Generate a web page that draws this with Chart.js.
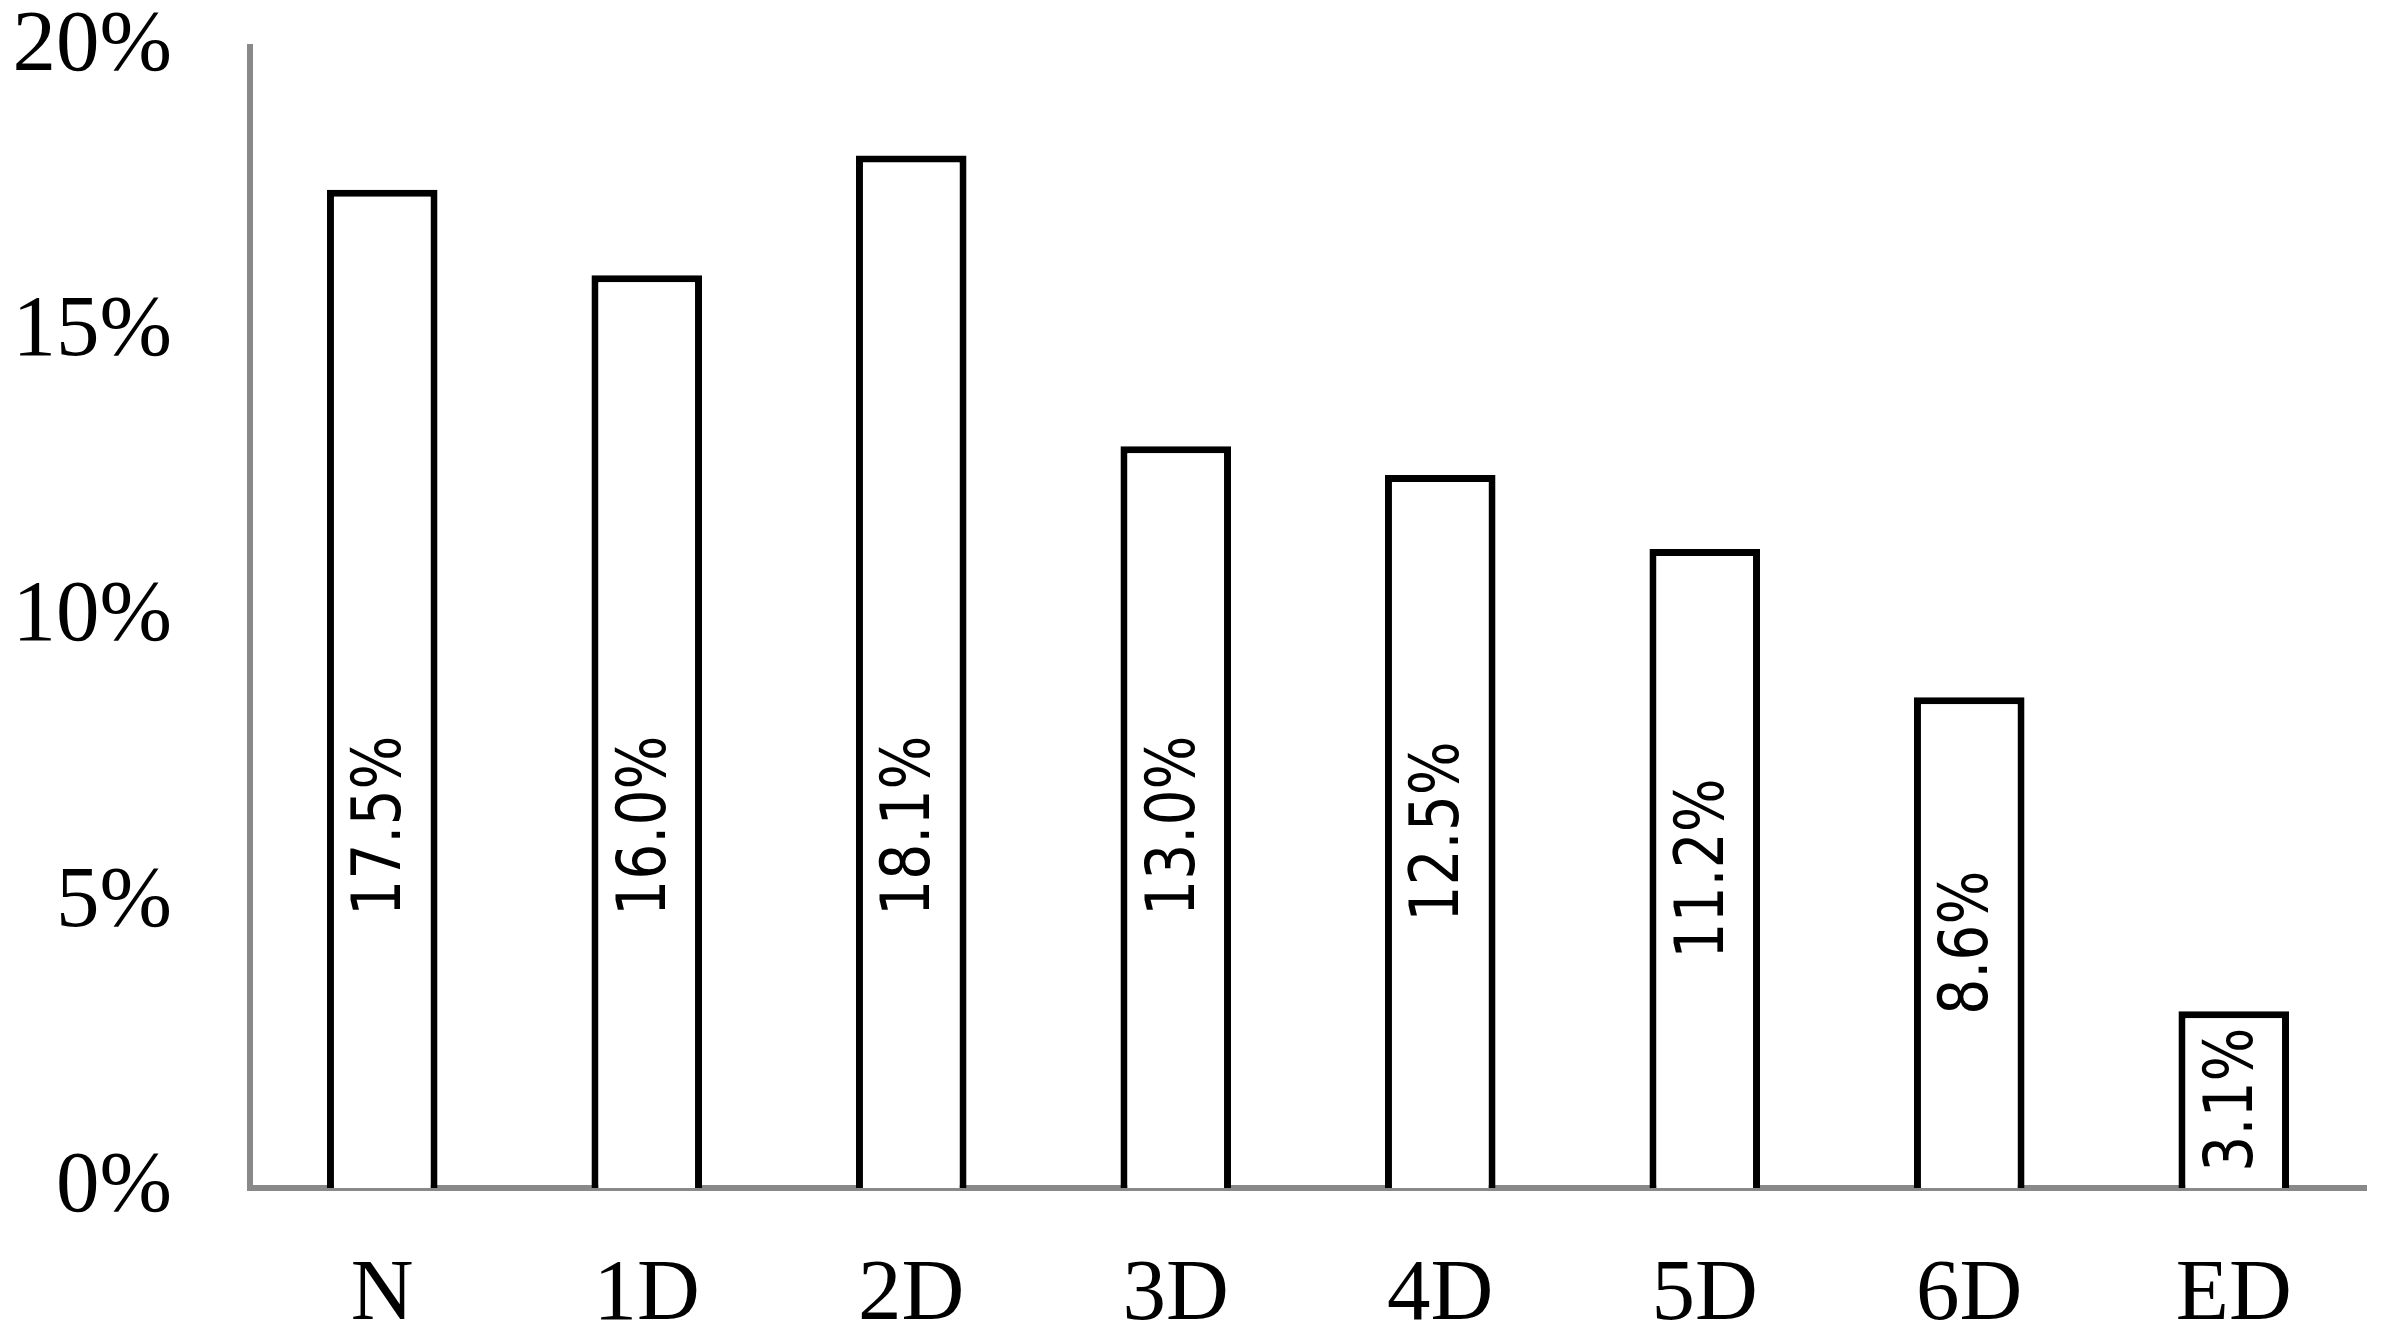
<!DOCTYPE html>
<html>
<head>
<meta charset="utf-8">
<script src="https://cdn.jsdelivr.net/npm/chart.js@4/dist/chart.umd.min.js"></script>
<style>
  html, body { margin: 0; padding: 0; background: #fff; }
  #wrap { width: 2383px; height: 1340px; }
</style>
</head>
<body>
<div id="wrap"><canvas id="chart" width="2383" height="1340"></canvas></div>
<script>
// Chart data
const categories = ['N', '1D', '2D', '3D', '4D', '5D', '6D', 'ED'];
const shares = [17.5, 16.0, 18.1, 13.0, 12.5, 11.2, 8.6, 3.1];
const yTicks = [0, 5, 10, 15, 20];

// Rotated value labels inside the bars
const barLabels = {
  id: 'barLabels',
  afterDatasetsDraw(chart) {
    const { ctx } = chart;
    const yScale = chart.scales.y;
    const meta = chart.getDatasetMeta(0);
    ctx.save();
    ctx.fillStyle = '#000';
    ctx.font = '68px "DejaVu Sans"';
    ctx.textAlign = 'center';
    ctx.textBaseline = 'alphabetic';
    meta.data.forEach((bar, i) => {
      const v = shares[i];
      // label centre sits at half the bar, but no higher than ~6.35%
      const cy = yScale.getPixelForValue(Math.min(v / 2, 6.35));
      ctx.save();
      ctx.translate(bar.x, cy);
      ctx.rotate(-Math.PI / 2);
      ctx.scale(0.835, 1); // narrower glyphs like the original
      ctx.fillText(v.toFixed(1) + '%', 0, 18);
      ctx.restore();
    });
    ctx.restore();
  }
};

const ctx = document.getElementById('chart').getContext('2d');
new Chart(ctx, {
  type: 'bar',
  data: {
    labels: categories,
    datasets: [{
      data: shares,
      backgroundColor: '#ffffff',
      borderColor: '#000000',
      borderWidth: 7,
      barPercentage: 0.418,
      categoryPercentage: 1.0,
    }],
  },
  options: {
    responsive: false,
    animation: false,
    layout: { padding: { top: 47, right: 17, left: 0, bottom: 0 } },
    plugins: {
      legend: { display: false },
      tooltip: { enabled: false },
    },
    scales: {
      x: {
        grid: { display: false, drawTicks: false },
        border: { display: true, color: '#898989', width: 6 },
        ticks: {
          color: '#000',
          font: { family: '"Liberation Serif"', size: 87 },
          padding: 56,
          maxRotation: 0,
        },
        afterFit(scale) { scale.height = 152; },
      },
      y: {
        min: 0,
        max: 20,
        grid: { display: false, drawTicks: false },
        border: { display: true, color: '#898989', width: 6 },
        afterBuildTicks(scale) { scale.ticks = yTicks.map(v => ({ value: v })); },
        ticks: {
          color: '#000',
          font: { family: '"Liberation Serif"', size: 87 },
          padding: 78,
          callback: (v) => v + '%',
        },
        afterFit(scale) {
          scale.width = 250;
          scale.paddingTop = 0;
          scale.paddingBottom = 0;
        },
      },
    },
  },
  plugins: [barLabels],
});
</script>
</body>
</html>
